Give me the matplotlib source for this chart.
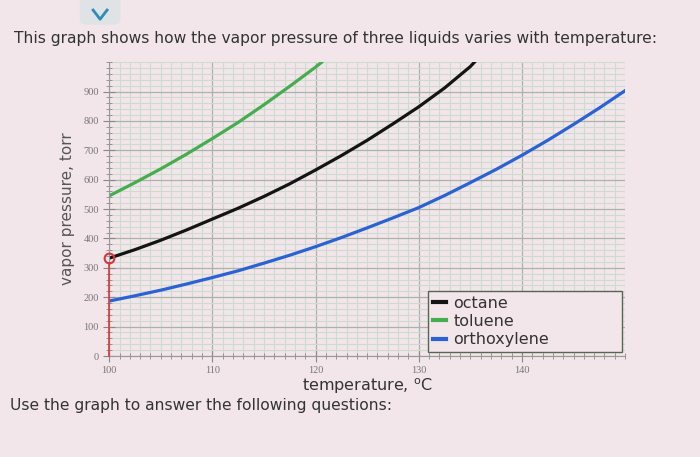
import matplotlib
matplotlib.use("Agg")
import matplotlib.pyplot as plt
from matplotlib.patches import FancyBboxPatch

# temperatures (deg C) and vapor pressures (torr)
t_octane = [100, 102.5, 105, 107.5, 110, 112.5, 115, 117.5, 120, 122.5, 125, 127.5, 130, 132.5, 135, 135.4]
p_octane = [333, 362, 394, 429, 466, 503, 543, 586, 633, 682, 734, 790, 848, 912, 985, 1000]

t_toluene = [100, 102.5, 105, 107.5, 110, 112.5, 115, 117.5, 120, 120.6]
p_toluene = [545, 590, 637, 687, 740, 795, 855, 918, 983, 1000]

t_oxylene = [100, 102.5, 105, 107.5, 110, 112.5, 115, 117.5, 120, 122.5, 125, 127.5,
             130, 132.5, 135, 137.5, 140, 142.5, 145, 147.5, 150]
p_oxylene = [187, 205, 224, 245, 267, 290, 316, 343, 372, 403, 436, 470,
             505, 546, 590, 635, 683, 734, 788, 844, 903]

x_ticks = [100, 110, 120, 130, 140]
y_ticks = [0, 100, 200, 300, 400, 500, 600, 700, 800, 900]

bg = "#f2e6ea"
fig = plt.figure(figsize=(7, 4.57), dpi=100, facecolor=bg)

# little collapse button at the top
btn = FancyBboxPatch((0.118, 0.95), 0.05, 0.06, boxstyle="round,pad=0.004,rounding_size=0.01",
                     transform=fig.transFigure, facecolor="#dfe3e6", edgecolor="none")
fig.patches.append(btn)
fig.lines.append(plt.Line2D([0.133, 0.143, 0.153], [0.978, 0.958, 0.978],
                            transform=fig.transFigure, color="#2a8fb5", lw=2))

fig.text(0.02, 0.915, "This graph shows how the vapor pressure of three liquids varies with temperature:",
         fontsize=11.2, color="#333333", family="DejaVu Sans", va="center")
fig.text(0.014, 0.113, "Use the graph to answer the following questions:",
         fontsize=11.2, color="#333333", family="DejaVu Sans", va="center")

ax = fig.add_axes([0.156, 0.221, 0.737, 0.643])
ax.set_facecolor(bg)

ax.plot(t_octane, p_octane, color="#141414", lw=2.3, label="octane")
ax.plot(t_toluene, p_toluene, color="#45ad4f", lw=2.3, label="toluene")
ax.plot(t_oxylene, p_oxylene, color="#2a62d4", lw=2.3, label="orthoxylene")

# selection marker on the octane curve
ax.plot([100, 100], [0, 318], color="#d23a3a", lw=1.2, clip_on=False, zorder=5)
ax.plot([100], [333], marker="o", ms=7, mfc="none", mec="#d23a3a", mew=1.5, clip_on=False, zorder=6)

ax.set_xlim(100, 150)
ax.set_ylim(0, 1000)
ax.set_xticks(x_ticks)
ax.set_yticks(y_ticks)
ax.set_xticks(range(100, 151), minor=True)
ax.set_yticks(range(0, 1001, 20), minor=True)
ax.grid(which="minor", color="#cddccf", lw=0.8)
ax.grid(which="major", color="#a9b3aa", lw=0.9)
ax.tick_params(which="both", direction="inout", colors="#888888", labelsize=7.5)
ax.tick_params(which="major", length=8)
ax.tick_params(which="minor", length=5)
for lab in ax.get_xticklabels() + ax.get_yticklabels():
    lab.set_family("Liberation Serif")
    lab.set_color("#777777")
for s in ["top", "right"]:
    ax.spines[s].set_visible(False)
ax.spines["left"].set_color("#999999")
ax.spines["bottom"].set_color("#999999")

ax.set_ylabel("vapor pressure, torr", fontsize=11, color="#555555", labelpad=6)
ax.set_xlabel("temperature, $\\mathregular{^oC}$", fontsize=11.5, color="#333333", labelpad=1)

leg = ax.legend(loc="lower left", bbox_to_anchor=(0.618, 0.014, 0.376, 0.22), mode="expand",
                borderaxespad=0, fontsize=11.5, handlelength=0.8, handletextpad=0.5,
                borderpad=0.3, labelspacing=0.2, fancybox=False, framealpha=1,
                facecolor=bg, edgecolor="#556655")
for t in leg.get_texts():
    t.set_color("#333333")
for h in leg.get_lines():
    h.set_linewidth(3)

fig.savefig("out.png", dpi=100, facecolor=bg)
